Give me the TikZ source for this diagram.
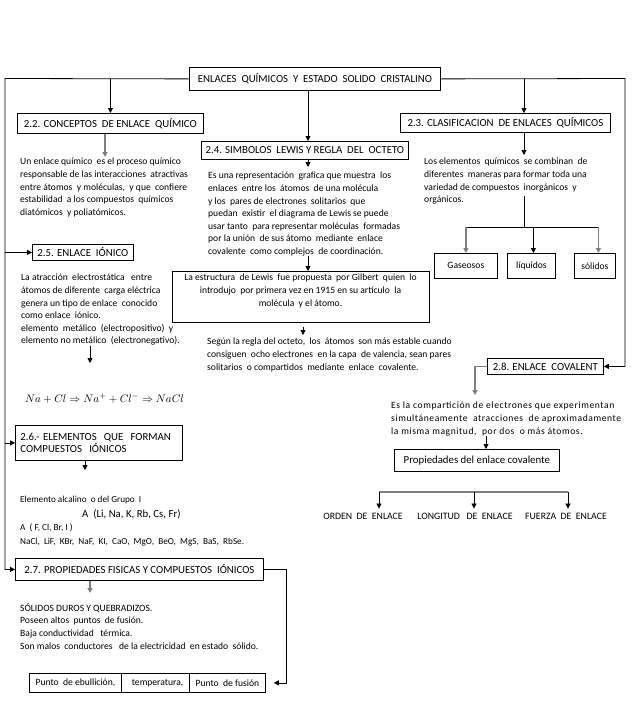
\documentclass[tikz,border=0pt]{standalone}
\usepackage{fontspec}
\setmainfont{Carlito}
\newfontfamily\spacedfont[LetterSpace=6]{Carlito}
\usetikzlibrary{arrows.meta}
\newcommand\fpar{\fontsize{9.6}{12.6}\selectfont}
\newcommand\fhead{\fontsize{10.8}{12.4}\selectfont}
\newcommand\fsmall{\fontsize{9.2}{10}\selectfont}
\newcommand\flab{\fontsize{9.8}{10}\selectfont}
\tikzset{
  box/.style={draw, line width=0.8pt, inner sep=0pt, anchor=north west, font=\fhead},
  para/.style={inner sep=0pt, anchor=north west, align=left, font=\fpar},
  lbl/.style={inner sep=0pt, font=\fsmall},
  arr/.style={line width=0.8pt, -{Triangle[length=5pt,width=5pt]}},
  garr/.style={line width=1.4pt, draw=gray, -{Triangle[length=5pt,width=5pt,fill=black]}},
  gline/.style={line width=1.4pt, draw=gray},
  bline/.style={line width=0.8pt},
}
\begin{document}
\begin{tikzpicture}[x=1pt,y=-1pt]
\useasboundingbox[fill=white] (0,0) rectangle (640,718);

% title
\node[box, minimum width=251, minimum height=23] (t) at (189,67) {ENLACES\ \ QUÍMICOS\ \ Y\ \ ESTADO\ \ SOLIDO\ \ CRISTALINO};

% boxes
\node[box, minimum width=186, minimum height=20] (b22) at (17,113) {2.2. CONCEPTOS\ \ DE ENLACE\ \ QUÍMICO};
\node[box, minimum width=207, minimum height=18] (b24) at (201,141) {2.4. SIMBOLOS\ \ LEWIS Y REGLA\ \ DEL\ \ OCTETO};
\node[box, minimum width=210, minimum height=19] (b23) at (400,113) {2.3. CLASIFICACION\ \ DE ENLACES\ \ QUÍMICOS};
\node[box, minimum width=63, minimum height=25, font=\fpar] (gas) at (434,253) {Gaseosos};
\node[box, minimum width=48, minimum height=25, font=\fpar] (liq) at (507,253) {líquidos};
\node[box, minimum width=41, minimum height=25, font=\fpar] (sol) at (574,253) {sólidos};
\node[box, minimum width=257, minimum height=51] (lewis) at (172,271) {};
\node[para, anchor=north, align=center] (lewistxt) at (300.5,274) {La estructura\ \ de Lewis\ \ fue propuesta\ \ por Gilbert\ \ quien\ \ lo\\introdujo\ \ por primera vez en 1915 en su artículo\ \ la\\molécula\ \ y el átomo.};
\node[box, minimum width=116, minimum height=16] (b28) at (487,358) {2.8. ENLACE\ \ COVALENT};
\node[box, minimum width=165, minimum height=22] (prop) at (394,449) {Propiedades del enlace covalente};
\node[box, minimum width=101, minimum height=16] (b25) at (32,244) {2.5. ENLACE\ \ IÓNICO};
\node[box, minimum width=162, minimum height=35, align=left, text width=157, inner xsep=5pt] (b26) at (15,425) {2.6.- ELEMENTOS\ \ QUE\ \ FORMAN\\COMPUESTOS\ \ IÓNICOS};
\node[box, minimum width=248, minimum height=22] (b27) at (15,558) {2.7. PROPIEDADES FISICAS Y COMPUESTOS\ \ IÓNICOS};
\node[box, minimum width=92, minimum height=19, font=\fpar] (c1) at (29,673) {Punto\ \ de ebullición,};
\node[box, minimum width=68, minimum height=19, font=\fpar] (c2) at (121,673) {\ \ temperatura,};
\node[box, minimum width=76, minimum height=19, font=\fpar] (c3) at (189,673) {Punto\ \ de fusión};

% paragraphs
\node[para] (p22) at (20,158) {Un enlace químico\ \ es el proceso químico\\responsable de las interacciones\ \ atractivas\\entre átomos\ \ y moléculas,\ \ y que\ \ confiere\\estabilidad\ \ a los compuestos\ \ químicos\\diatómicos\ \ y poliatómicos.};
\node[para] (p24) at (208,172) {Es una representación\ \ grafica que muestra\ \ los\\enlaces\ \ entre los\ \ átomos\ \ de una molécula\\y los\ \ pares de electrones\ \ solitarios\ \ que\\puedan\ \ existir\ \ el diagrama de Lewis se puede\\usar tanto\ \ para representar moléculas\ \ formadas\\por la unión\ \ de sus átomo\ \ mediante\ \ enlace\\covalente\ \ como complejos\ \ de coordinación.};
\node[para] (p23) at (424,158) {Los elementos\ \ químicos\ \ se combinan\ \ de\\diferentes\ \ maneras para formar toda una\\variedad de compuestos\ \ inorgánicos\ \ y\\orgánicos.};
\node[para] (poct) at (207,338) {Según la regla del octeto,\ \ los\ \ átomos\ \ son más estable cuando\\consiguen\ \ ocho electrones\ \ en la capa\ \ de valencia, sean pares\\solitarios\ \ o compartidos\ \ mediante\ \ enlace\ \ covalente.};
\node[para, font=\spacedfont\fpar] (pcov) at (391,402) {Es la compartición de electrones que experimentan\\simultáneamente\ \ atracciones\ \ de aproximadamente\\la misma magnitud,\ \ por dos\ \ o más átomos.};
\node[para] (p25) at (21,274) {La atracción\ \ electrostática\ \ \ entre\\átomos de diferente\ \ carga eléctrica\\genera un tipo de enlace\ \ conocido\\como enlace\ \ iónico.\\elemento\ \ metálico\ \ (electropositivo)\ \ y\\elemento no metálico\ \ (electronegativo).};
\node[para] (p27) at (20,603) {SÓLIDOS DUROS Y QUEBRADIZOS.\\Poseen altos\ \ puntos\ \ de fusión.\\Baja conductividad\ \ \ térmica.\\Son malos\ \ conductores\ \ \ de la electricidad\ \ en estado\ \ sólido.};

% equation
\node[inner sep=0pt, anchor=west, font=\fontsize{11.2}{14}\selectfont] (eq) at (25,399) {$Na+Cl\Rightarrow Na^{+}+Cl^{-}\Rightarrow NaCl$};

% 2.6 texts
\node[lbl, anchor=west] (e1) at (20,500) {Elemento alcalino\ \ o del Grupo\ \ I};
\node[inner sep=0pt, anchor=west, font=\fhead] (e2) at (82,514) {A\ \ (Li, Na, K, Rb, Cs, Fr)};
\node[lbl, anchor=west] (e3) at (20,528) {A\ \ ( F, Cl, Br, I )};
\node[lbl, anchor=west] (e4) at (20,542) {NaCl,\ \ LiF,\ \ KBr,\ \ NaF,\ \ KI,\ \ CaO,\ \ MgO,\ \ BeO,\ \ MgS,\ \ BaS,\ \ RbSe.};

% covalent property labels
\node[inner sep=0pt, font=\flab] (o1) at (363,516) {ORDEN\ \ DE\ \ ENLACE};
\node[inner sep=0pt, font=\flab] (o2) at (465,516) {LONGITUD\ \ \ DE\ \ ENLACE};
\node[inner sep=0pt, font=\flab] (o3) at (566,516) {FUERZA\ \ DE\ \ ENLACE};

% coordinates
\coordinate (Ltop) at (5,78.5);
\coordinate (Rtop) at (625,78.5);
\coordinate (br) at (524,227);
\coordinate (brtop) at (524,196);
\coordinate (pb1) at (379,492);
\coordinate (pb2) at (474,492);
\coordinate (pb3) at (568,492);
\coordinate (a25) at (90,363);
\coordinate (a26) at (85,470);
\coordinate (a27) at (90,593);
\coordinate (a22) at (105,157);
\coordinate (a24) at (308,167);
\coordinate (aoct) at (303,335);
\coordinate (a23) at (524,155);
\coordinate (acov) at (475,395);
\coordinate (aprop) at (486,443);

% left trunk
\draw[arr] (t.west) -- (Ltop) |- (b27.west);
\draw[arr] (Ltop |- b25.west) -- (b25.west);
\draw[arr] (Ltop |- b26.west) -- (b26.west);
\draw[arr] (b22.north |- t.west) -- (b22.north);
\draw[garr] (b22.south -| a22) -- (a22);

% centre
\draw[arr] (t.south -| a24) -- (a24 |- b24.north);
\draw[arr] (b24.south -| a24) -- (a24);
\draw[arr] (p24.south -| a24) -- (a24 |- lewis.north);
\draw[arr] ([yshift=-4pt]lewis.south -| aoct) -- (aoct);

% right
\draw[arr] (t.east) -- (Rtop) |- (b28.east);
\draw[arr] (t.east -| a23) -- (a23 |- b23.north);
\draw[arr] (b23.south -| a23) -- (a23);
\draw[bline] (brtop) -- (br);
\draw[bline] (gas.north |- br) -- ([xshift=3.5pt]sol.north |- br);
\draw[garr] (gas.north |- br) -- (gas.north);
\draw[arr] ([xshift=2pt]liq.north |- br) -- ([xshift=2pt]liq.north);
\draw[garr] ([xshift=3.5pt]sol.north |- br) -- ([xshift=3.5pt]sol.north);

% covalent
\draw[garr] (b28.west) -| (acov);
\draw[arr] (pcov.south -| aprop) -- (aprop |- prop.north);
\draw[gline] (pb1) -- (pb3);
\draw[arr] (pb1) -- ([yshift=4pt]pb1 |- o1.north);
\draw[arr] (pb2) -- ([yshift=4pt]pb2 |- o2.north);
\draw[arr] (pb3) -- ([yshift=4pt]pb3 |- o3.north);

% ionic lower
\draw[arr] (p25.south -| a25) -- (a25);
\draw[arr] (b26.south -| a26) -- (a26);
\draw[garr] (b27.south -| a27) -- (a27);
\draw[arr] (b27.east) -- ++(23,0) |- ([xshift=8pt]c3.east);
\end{tikzpicture}
\end{document}
